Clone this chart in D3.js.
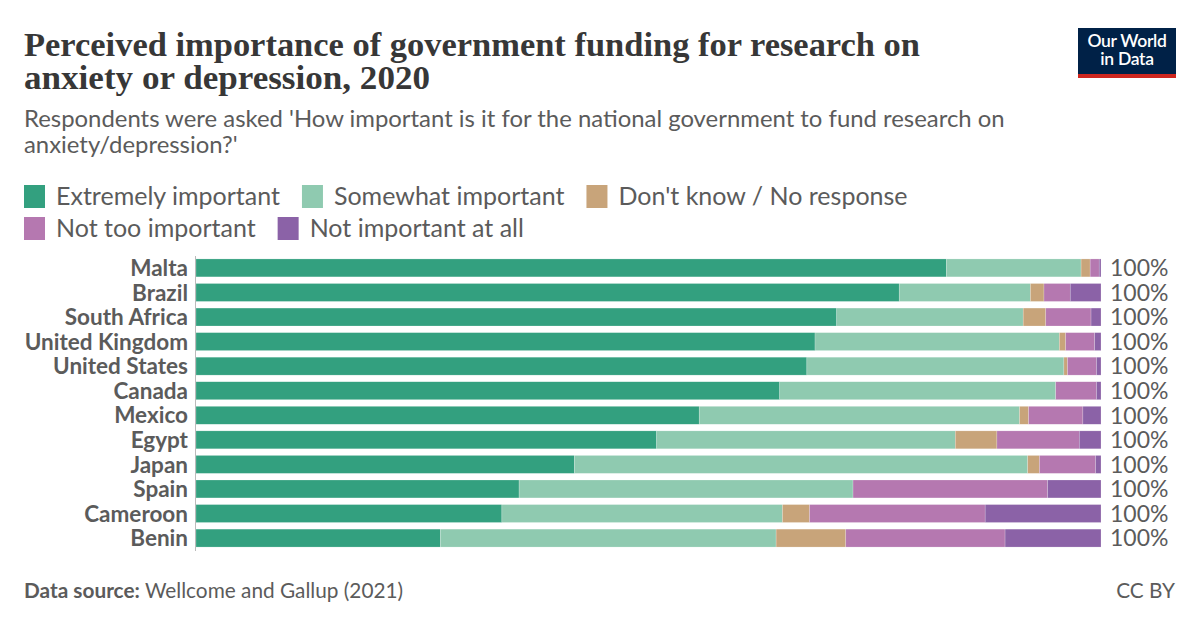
<!DOCTYPE html>
<html>
<head>
<meta charset="utf-8">
<script src="https://cdn.jsdelivr.net/npm/d3@7"></script>
<style>
  body { margin: 0; background: #fff; }
  svg { display: block; }
</style>
</head>
<body>
<div id="chart"></div>
<script>
// countries top to bottom
const countries = ['Malta', 'Brazil', 'South Africa', 'United Kingdom', 'United States', 'Canada',
  'Mexico', 'Egypt', 'Japan', 'Spain', 'Cameroon', 'Benin']

// shares in percent, same order as countries
const extremely = [82.9, 77.7, 70.8, 68.4, 67.5, 64.5, 55.6, 50.9, 41.8, 35.7, 33.8, 27.0]
const somewhat  = [14.9, 14.5, 20.6, 27.0, 28.4, 30.5, 35.4, 33.0, 50.1, 36.9, 31.0, 37.1]
const dontKnow  = [1.0, 1.5, 2.5, 0.7, 0.4, 0.0, 1.0, 4.6, 1.3, 0.0, 3.0, 7.7]
const notToo    = [1.0, 2.9, 5.0, 3.2, 3.2, 4.5, 6.0, 9.1, 6.2, 21.5, 19.4, 17.6]
const notAtAll  = [0.2, 3.4, 1.1, 0.7, 0.5, 0.5, 2.0, 2.4, 0.6, 5.9, 12.8, 10.6]

const seriesNames = ['Extremely important', 'Somewhat important', "Don't know / No response",
  'Not too important', 'Not important at all']
const seriesColors = ['#33a07f', '#8fcab0', '#c8a47a', '#b578b0', '#8b62a7']

const width = 1200, height = 627
const margin = {top: 256, right: 99, bottom: 77, left: 196}

const svg = d3.select('#chart').append('svg')
  .attr('width', width)
  .attr('height', height)
  .style('font-family', 'Lato, sans-serif')

// header
const titleLines = [
  {text: 'Perceived importance of government funding for research on', w: 896},
  {text: 'anxiety or depression, 2020', w: 406}
]
svg.selectAll('.title').data(titleLines).enter().append('text')
  .attr('x', 24).attr('y', (d, i) => 56 + i * 33)
  .attr('font-family', "'Liberation Serif', serif")
  .attr('font-size', 33).attr('font-weight', 700)
  .attr('fill', '#373737')
  .attr('textLength', d => d.w).attr('lengthAdjust', 'spacingAndGlyphs')
  .text(d => d.text)

const subtitle = ["Respondents were asked 'How important is it for the national government to fund research on",
  "anxiety/depression?'"]
svg.selectAll('.sub').data(subtitle).enter().append('text')
  .attr('x', 24).attr('y', (d, i) => 127 + i * 26)
  .attr('font-size', 23.9).attr('fill', '#5b5b5b')
  .text(d => d)

// logo
const logo = svg.append('g').attr('transform', 'translate(1078,28)')
logo.append('rect').attr('width', 98).attr('height', 50).attr('fill', '#002147')
logo.append('rect').attr('y', 46).attr('width', 98).attr('height', 4).attr('fill', '#ce261e')
logo.append('text').attr('x', 49).attr('y', 19).attr('text-anchor', 'middle')
  .attr('font-size', 17.5).attr('font-weight', 600).attr('fill', '#fff').attr('letter-spacing', -0.3)
  .text('Our World')
logo.append('text').attr('x', 49).attr('y', 37).attr('text-anchor', 'middle')
  .attr('font-size', 17.5).attr('font-weight', 600).attr('fill', '#fff').attr('letter-spacing', -0.3)
  .text('in Data')

// legend, two rows
const legendRows = [[0, 1, 2], [3, 4]]
legendRows.forEach((row, r) => {
  let x = 24
  row.forEach(i => {
    const g = svg.append('g').attr('transform', `translate(${x},${185 + r * 32})`)
    g.append('rect').attr('width', 21).attr('height', 23).attr('fill', seriesColors[i])
    const t = g.append('text').attr('x', 32).attr('y', 20)
      .attr('font-size', 25).attr('fill', '#5b5b5b').text(seriesNames[i])
    x += 32 + t.node().getComputedTextLength() + 22
  })
})

// stack the series
const rows = countries.map((c, i) => ({
  country: c,
  s0: extremely[i], s1: somewhat[i], s2: dontKnow[i], s3: notToo[i], s4: notAtAll[i]
}))
const keys = ['s0', 's1', 's2', 's3', 's4']
const stacked = d3.stack().keys(keys)(rows)

const x = d3.scaleLinear()
  .domain([0, 100])
  .range([margin.left, width - margin.right])

const y = d3.scaleBand()
  .domain(countries)
  .range([margin.top, height - margin.bottom])
  .paddingInner(0.27)
  .paddingOuter(0.12)

svg.append('g')
  .selectAll('g')
  .data(stacked)
  .enter().append('g')
  .attr('fill', (d, i) => seriesColors[i])
  .selectAll('rect')
  .data(d => d)
  .enter().append('rect')
  .attr('x', d => x(d[0]))
  .attr('y', d => y(d.data.country))
  .attr('width', d => Math.max(0, x(d[1]) - x(d[0])))
  .attr('height', y.bandwidth())
  .attr('stroke', '#fff').attr('stroke-opacity', 0.4).attr('stroke-width', 0.5)

// axis line
svg.append('line')
  .attr('x1', margin.left - 0.5).attr('x2', margin.left - 0.5)
  .attr('y1', margin.top).attr('y2', height - margin.bottom + 1)
  .attr('stroke', '#bbb').attr('stroke-width', 1)

// country labels
const yAxis = svg.append('g')
  .attr('transform', `translate(${margin.left - 8},0)`)
  .call(d3.axisLeft(y).tickSize(0).tickPadding(0))
yAxis.select('.domain').remove()
yAxis.selectAll('text')
  .attr('font-family', 'Lato, sans-serif')
  .attr('font-size', 22.5).attr('font-weight', 700)
  .attr('fill', '#5b5b5b')
  .attr('dy', '0.36em')

// totals
svg.append('g').selectAll('text')
  .data(rows)
  .enter().append('text')
  .attr('x', x(100) + 9)
  .attr('y', d => y(d.country) + y.bandwidth() / 2)
  .attr('dy', '0.36em')
  .attr('font-size', 23).attr('fill', '#5b5b5b')
  .text(d => d3.format('.0f')(d.s0 + d.s1 + d.s2 + d.s3 + d.s4) + '%')

// footer
const foot = svg.append('text').attr('x', 24).attr('y', 598)
  .attr('font-size', 20.8).attr('fill', '#5b5b5b')
foot.append('tspan').attr('font-weight', 700).text('Data source: ')
foot.append('tspan').text('Wellcome and Gallup (2021)')
svg.append('text').attr('x', 1175).attr('y', 598).attr('text-anchor', 'end')
  .attr('font-size', 20.8).attr('fill', '#5b5b5b').text('CC BY')
</script>
</body>
</html>
